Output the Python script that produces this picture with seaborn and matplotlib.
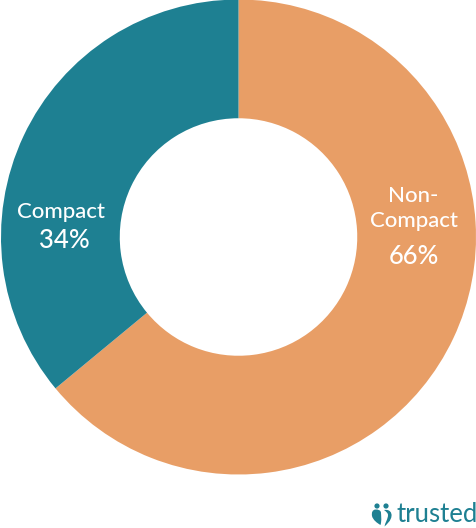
import matplotlib
matplotlib.use("Agg")
import matplotlib.pyplot as plt
from matplotlib.patches import Circle, PathPatch
from matplotlib.path import Path
import seaborn as sns

labels = ["Non-\nCompact", "Compact"]
values = [64, 36]
pcts = ["66%", "34%"]
colors = ["#E89E66", "#1E8092"]

sns.set_theme(style="white")
plt.rcParams['font.family'] = ['Lato', 'DejaVu Sans']

W, H = 477, 528
fig = plt.figure(figsize=(W/100, H/100), dpi=100)
cx, cy, R = 238.5, 237, 237.5
ax = fig.add_axes([(cx-R)/W, 1-(cy+R)/H, 2*R/W, 2*R/H])
ax.pie(values, colors=colors, startangle=90, counterclock=False, radius=1,
       wedgeprops=dict(width=0.5, linewidth=0))
ax.set_xlim(-1, 1); ax.set_ylim(-1, 1)
ax.set_aspect('equal')

def T(x, y, s, size, **kw):
    fig.text(x/W, 1-y/H, s, color='white', ha='center', va='center', fontweight='medium', fontsize=size, **kw)

T(413, 195.5, "Non-", 16)
T(414, 221.5, "Compact", 16)
T(413.5, 256, pcts[0], 18.5)
T(61.5, 212, labels[1], 16)
T(64, 240, pcts[1], 18.5)
fig.text(477.5/W, 1-515/H, "trusted", color=colors[1], ha='right', va='center', fontsize=18.5)

# logo, drawn in pixel coordinates
logo = fig.add_axes([0, 0, 1, 1], facecolor='none')
logo.set_xlim(0, W); logo.set_ylim(H, 0); logo.axis('off')
c = colors[1]
logo.add_patch(Circle((377, 506), 2.6, color=c, lw=0))
logo.add_patch(Circle((386, 506), 2.6, color=c, lw=0))
C4 = Path.CURVE4; M = Path.MOVETO; CL = Path.CLOSEPOLY
left = Path([(376, 509.5),
             (372, 509.5), (371.5, 513), (372, 516),
             (373, 520), (377, 523), (380.5, 525),
             (382, 520), (381, 515), (381, 513),
             (381, 510), (378, 509.5), (376, 509.5),
             (376, 509.5)],
            [M] + [C4] * 12 + [CL])
logo.add_patch(PathPatch(left, facecolor=c, edgecolor='none', lw=0))
right = Path([(384, 510),
              (390, 509), (392, 513), (391.5, 516),
              (391, 521), (387, 524), (384.5, 526.5),
              (385, 523), (388, 519), (388, 515),
              (388, 513), (386, 511.5), (384, 510),
              (384, 510)],
             [M] + [C4] * 12 + [CL])
logo.add_patch(PathPatch(right, facecolor=c, edgecolor='none', lw=0))
fig.savefig("out.png", dpi=100)
